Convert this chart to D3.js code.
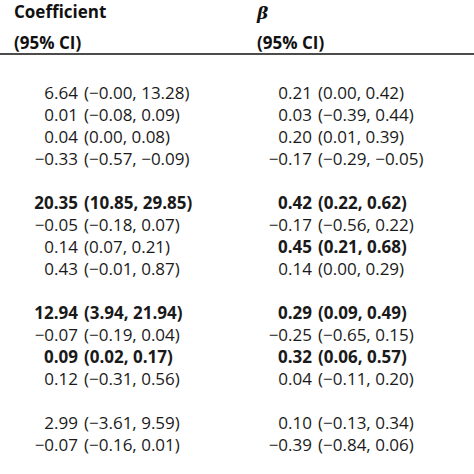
<!DOCTYPE html><html><head><meta charset="utf-8">
<script src="https://cdn.jsdelivr.net/npm/d3@7"></script>
<style>body{margin:0;background:#fff}</style></head><body>
<svg id="c" width="474" height="474"></svg>
<script>
const headers1 = ["Coefficient", "β"];
const headers2 = ["(95% CI)", "(95% CI)"];
const groups = [0,0,0,0,1,1,1,1,2,2,2,2,3,3];
const coefEst = ["6.64","0.01","0.04","−0.33","20.35","−0.05","0.14","0.43","12.94","−0.07","0.09","0.12","2.99","−0.07"];
const coefCI = ["(−0.00, 13.28)","(−0.08, 0.09)","(0.00, 0.08)","(−0.57, −0.09)","(10.85, 29.85)","(−0.18, 0.07)","(0.07, 0.21)","(−0.01, 0.87)","(3.94, 21.94)","(−0.19, 0.04)","(0.02, 0.17)","(−0.31, 0.56)","(−3.61, 9.59)","(−0.16, 0.01)"];
const coefBold = [0,0,0,0,1,0,0,0,1,0,1,0,0,0];
const betaEst = ["0.21","0.03","0.20","−0.17","0.42","−0.17","0.45","0.14","0.29","−0.25","0.32","0.04","0.10","−0.39"];
const betaCI = ["(0.00, 0.42)","(−0.39, 0.44)","(0.01, 0.39)","(−0.29, −0.05)","(0.22, 0.62)","(−0.56, 0.22)","(0.21, 0.68)","(0.00, 0.29)","(0.09, 0.49)","(−0.65, 0.15)","(0.06, 0.57)","(−0.11, 0.20)","(−0.13, 0.34)","(−0.84, 0.06)"];
const betaBold = [0,0,0,0,1,0,1,0,1,0,1,0,0,0];

const svg = d3.select("#c");
const font = "'Open Sans', sans-serif";
const idx = d3.range(coefEst.length);
let pos = []; let y = 0;
idx.forEach((i)=>{ if(i>0){ y += 22 + (groups[i]!==groups[i-1]?22:0);} pos.push(y); });
const rowY = i => 99 + pos[i];

svg.append("text").attr("x",14).attr("y",18).attr("font-family",font).attr("font-weight","bold").attr("font-size",17).attr("fill","#111").text(headers1[0]);
svg.append("text").attr("x",257).attr("y",19).attr("font-family","'DejaVu Serif', serif").attr("font-style","italic").attr("font-weight","bold").attr("font-size",17).attr("fill","#111").text(headers1[1]);
svg.append("text").attr("x",14).attr("y",49).attr("font-family",font).attr("font-weight","bold").attr("font-size",17).attr("fill","#111").text(headers2[0]);
svg.append("text").attr("x",257).attr("y",49).attr("font-family",font).attr("font-weight","bold").attr("font-size",17).attr("fill","#111").text(headers2[1]);
svg.append("line").attr("x1",0).attr("x2",474).attr("y1",54).attr("y2",54).attr("stroke","#111").attr("stroke-width",1.5);

const cols = [
  {est:coefEst, ci:coefCI, bold:coefBold, xe:78, xc:84},
  {est:betaEst, ci:betaCI, bold:betaBold, xe:312, xc:318}
];
cols.forEach(c=>{
  const g = svg.append("g").attr("font-family",font).attr("font-size",17).attr("fill","#1a1a1a");
  g.selectAll(".e").data(idx).join("text").attr("x",c.xe).attr("y",rowY).attr("text-anchor","end")
   .attr("font-weight",i=>c.bold[i]?"bold":"normal").text(i=>c.est[i]);
  g.selectAll(".ci").data(idx).join("text").attr("x",c.xc).attr("y",rowY)
   .attr("font-weight",i=>c.bold[i]?"bold":"normal").text(i=>c.ci[i]);
});
</script></body></html>
